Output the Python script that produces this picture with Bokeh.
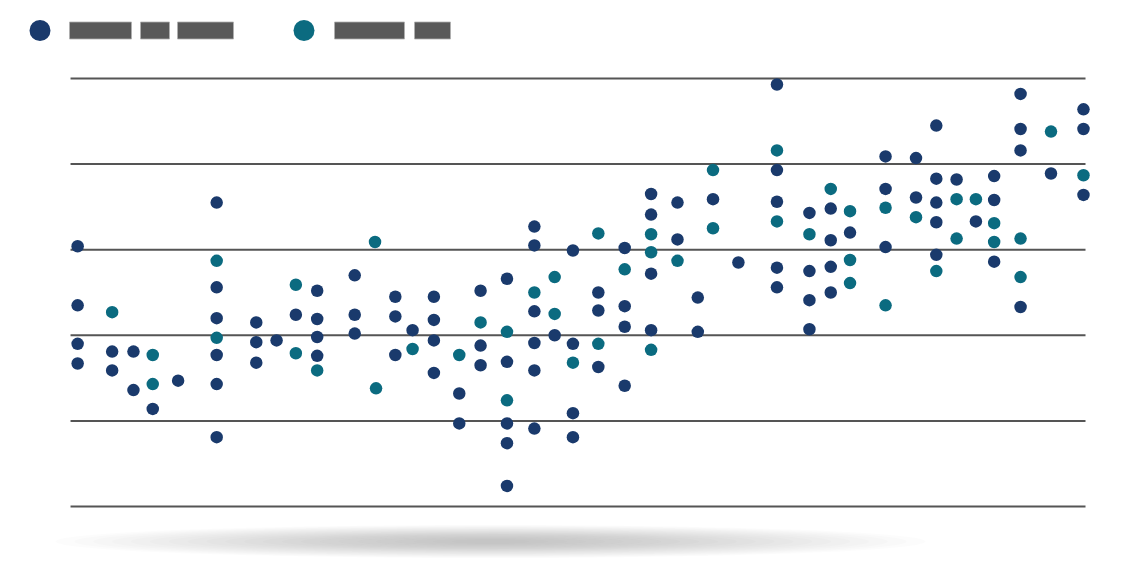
from bokeh.plotting import figure
from bokeh.models import Range1d
from bokeh.embed import file_html
from bokeh.resources import INLINE

# ---- data -------------------------------------------------------------
navy_x = [0.7, 0.7, 0.7, 0.7,
          4.1, 4.1,
          6.2, 6.2,
          8.1,
          10.6,
          14.4, 14.4, 14.4, 14.4, 14.4, 14.4,
          18.3, 18.3, 18.3,
          20.3,
          22.2,
          24.3, 24.3, 24.3, 24.3,
          28.0, 28.0, 28.0,
          32.0, 32.0, 32.0,
          33.7,
          35.8, 35.8, 35.8, 35.8,
          38.3, 38.3,
          40.4, 40.4, 40.4,
          43.0, 43.0, 43.0, 43.0, 43.0,
          45.7, 45.7, 45.7, 45.7, 45.7, 45.7,
          47.7,
          49.5, 49.5, 49.5, 49.5,
          52.0, 52.0, 52.0,
          54.6, 54.6, 54.6, 54.6,
          57.2, 57.2, 57.2, 57.2,
          59.8, 59.8,
          61.8, 61.8,
          63.3,
          65.8,
          69.6, 69.6, 69.6, 69.6, 69.6,
          72.8, 72.8, 72.8, 72.8,
          74.9, 74.9, 74.9, 74.9,
          76.8,
          80.3, 80.3, 80.3,
          83.3, 83.3,
          85.3, 85.3, 85.3, 85.3, 85.3,
          87.3,
          89.2,
          91.0, 91.0, 91.0,
          93.6, 93.6, 93.6, 93.6,
          96.6,
          99.8, 99.8, 99.8]
navy_y = [30.4, 23.5, 19.0, 16.7,
          18.1, 15.9,
          18.1, 13.6,
          11.4,
          14.7,
          35.5, 25.6, 22.0, 17.7, 14.3, 8.1,
          21.5, 19.2, 16.8,
          19.4,
          22.4,
          25.2, 21.9, 19.8, 17.6,
          27.0, 22.4, 20.2,
          24.5, 22.2, 17.7,
          20.6,
          24.5, 21.8, 19.4, 15.6,
          13.2, 9.7,
          25.2, 18.8, 16.5,
          26.6, 16.9, 9.7, 7.4, 2.4,
          32.7, 30.5, 22.8, 19.1, 15.9, 9.1,
          20.0,
          29.9, 19.0, 10.9, 8.1,
          25.0, 22.9, 16.3,
          30.2, 23.4, 21.0, 14.1,
          36.5, 34.1, 27.2, 20.6,
          35.5, 31.2,
          24.4, 20.4,
          35.9,
          28.5,
          49.3, 39.3, 35.6, 27.9, 25.6,
          34.3, 27.5, 24.1, 20.7,
          34.8, 31.1, 28.0, 25.0,
          32.0,
          40.9, 37.1, 30.3,
          40.7, 36.1,
          44.5, 38.3, 35.5, 33.2, 29.4,
          38.2,
          33.3,
          38.6, 35.8, 28.6,
          48.2, 44.1, 41.6, 23.3,
          38.9,
          46.4, 44.1, 36.4]

teal_x = [4.1, 8.1, 8.1, 14.4, 14.4, 22.2, 22.2, 24.3, 30.0, 30.1,
          33.7, 38.3, 40.4, 43.0, 43.0, 45.7, 47.7, 47.7, 49.5, 52.0,
          52.0, 54.6, 57.2, 57.2, 57.2, 59.8, 63.3, 63.3, 69.6, 69.6,
          72.8, 74.9, 76.8, 76.8, 76.8, 80.3, 80.3, 83.3, 85.3, 87.3,
          87.3, 89.2, 91.0, 91.0, 93.6, 93.6, 96.6, 99.8]
teal_y = [22.7, 17.7, 14.3, 28.7, 19.7, 25.9, 17.9, 15.9, 30.9, 13.8,
          18.4, 17.7, 21.5, 20.4, 12.4, 25.0, 26.8, 22.5, 16.8, 31.9,
          19.0, 27.7, 31.8, 29.7, 18.3, 28.7, 39.3, 32.5, 41.6, 33.3,
          31.8, 37.1, 34.5, 28.8, 26.1, 34.9, 23.5, 33.8, 27.5, 35.9,
          31.3, 35.9, 33.1, 30.9, 31.3, 26.8, 43.8, 38.7]

grid_levels = [0, 10, 20, 30, 40, 50]
x_start, x_end = 0, 100

NAVY = "#1a3a6c"
TEAL = "#0b6b80"
BAR_GREY = "#595959"

W, H = 1125, 582
X0, X1 = -6.9, 103.94
Y0, Y1 = -8.88, 59.11


def dx(px):
    """Horizontal canvas pixel -> data x."""
    return X0 + px * (X1 - X0) / W


def dy(py):
    """Vertical canvas pixel (from top) -> data y."""
    return Y1 - py * (Y1 - Y0) / H


def dw(px):
    return px * (X1 - X0) / W


def dh(px):
    return px * (Y1 - Y0) / H


p = figure(width=W, height=H, output_backend="svg", toolbar_location=None,
           x_range=Range1d(X0, X1), y_range=Range1d(Y0, Y1),
           min_border=0, background_fill_color="white",
           border_fill_color="white")
p.axis.visible = False
p.grid.visible = False
p.outline_line_color = None

# soft floor shadow under the plot, built from stacked translucent ellipses
shadow_cx, shadow_cy = dx(490), dy(541)
layers = 22
for i in range(layers):
    f = 1 - i / layers
    p.ellipse(x=shadow_cx, y=shadow_cy, width=dw(830 * f + 40),
              height=dh(30 * f + 3), fill_color="#7a7a7a",
              fill_alpha=0.024, line_color=None)

# horizontal guide lines
p.multi_line(xs=[[x_start, x_end] for _ in grid_levels],
             ys=[[g, g] for g in grid_levels],
             line_color="#555555", line_width=2)

# data points
p.scatter(navy_x, navy_y, size=12.5, fill_color=NAVY, line_color=None)
p.scatter(teal_x, teal_y, size=12.5, fill_color=TEAL, line_color=None)

# legend: coloured marker followed by grey placeholder bars
p.scatter([dx(39.5)], [dy(30)], size=21, fill_color=NAVY, line_color=None)
p.scatter([dx(303.5)], [dy(30)], size=21, fill_color=TEAL, line_color=None)
for left, right in [(69, 131), (140, 169), (177, 233), (334, 404), (414, 450)]:
    p.quad(left=dx(left), right=dx(right), top=dy(21.5), bottom=dy(38.5),
           fill_color=BAR_GREY, line_color="#b0b0b0", line_width=0.8)

open("out.html", "w").write(file_html(p, INLINE))
